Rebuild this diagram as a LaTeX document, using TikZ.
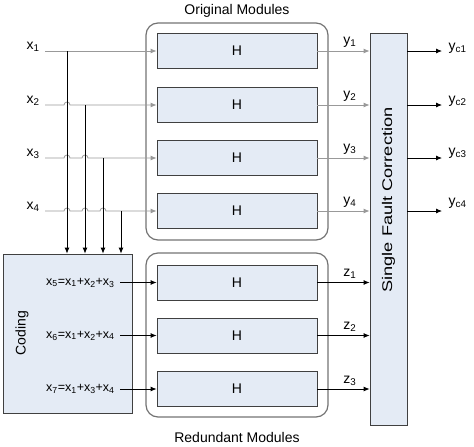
\documentclass[tikz,border=0pt]{standalone}
\usepackage{fontspec}
\setmainfont{Liberation Sans}
\usetikzlibrary{arrows.meta,positioning,calc}
\definecolor{boxblue}{HTML}{E4EBF5}

\begin{document}
\begin{tikzpicture}[x=1pt, y=-1pt,
    font=\fontsize{14}{16}\selectfont,
    line width=0.8pt,
    >={Latex[length=6pt,width=5pt]},
    hbox/.style={draw=black!75, fill=boxblue, minimum width=160pt, minimum height=35pt, inner sep=0pt},
    group/.style={draw=black!55, line width=1.2pt, rounded corners=12pt},
    eqn/.style={anchor=east, inner sep=1pt, font=\fontsize{12.5}{14}\selectfont},
    glink/.style={draw=black!40},
    blink/.style={draw=black}]
    \useasboundingbox (0,0) rectangle (474,447);

    % Module groups
    \draw[group] (146,23) rectangle (328,240);
    \draw[group] (146,253) rectangle (328,417);
    \node (torig) at (237,11) {Original Modules};
    \node (tred) at (237,437) {Redundant Modules};

    % Original modules
    \node[hbox] (h1) at (237,51) {H};
    \node[hbox] (h2) at (237,105) {H};
    \node[hbox] (h3) at (237,158) {H};
    \node[hbox] (h4) at (237,211) {H};

    % Redundant modules
    \node[hbox] (r1) at (237,282.5) {H};
    \node[hbox] (r2) at (237,335.5) {H};
    \node[hbox] (r3) at (237,389) {H};

    % Coding block
    \node[draw=black!75, fill=boxblue, minimum width=129pt, minimum height=159pt, inner sep=0pt] (coding) at (67.5,333.5) {};
    \node[rotate=90] (codtxt) at (22,333) {Coding};
    \node[eqn] (e5) at (116,282.5) {x\textsubscript{5}=x\textsubscript{1}+x\textsubscript{2}+x\textsubscript{3}};
    \node[eqn] (e6) at (116,335.5) {x\textsubscript{6}=x\textsubscript{1}+x\textsubscript{2}+x\textsubscript{4}};
    \node[eqn] (e7) at (116,389) {x\textsubscript{7}=x\textsubscript{1}+x\textsubscript{3}+x\textsubscript{4}};

    % Correction block
    \node[draw=black!75, fill=boxblue, minimum width=37pt, minimum height=392pt, inner sep=0pt] (sfc) at (388.5,229) {};
    \node[rotate=90] (sfctxt) at (388.5,200) {\scalebox{1.3}[1]{Single Fault Correction}};

    % Inputs
    \node (x1) at (33,47) {x\textsubscript{1}};
    \node (x2) at (33,101) {x\textsubscript{2}};
    \node (x3) at (33,154) {x\textsubscript{3}};
    \node (x4) at (33,207) {x\textsubscript{4}};
    \coordinate (t1) at (67,51);
    \coordinate (t2) at (85,105);
    \coordinate (t3) at (103,158);
    \coordinate (t4) at (121,211);

    % Input lines with hops
    \draw[glink, ->] ([xshift=2pt]x1.east |- h1) -- (h1.west);
    \draw[glink, ->] ([xshift=2pt]x2.east |- h2)
        -- ($(t1 |- h2)+(-3pt,0)$) arc[start angle=180, end angle=0, radius=3pt]
        -- (h2.west);
    \draw[glink, ->] ([xshift=2pt]x3.east |- h3)
        -- ($(t1 |- h3)+(-3pt,0)$) arc[start angle=180, end angle=0, radius=3pt]
        -- ($(t2 |- h3)+(-3pt,0)$) arc[start angle=180, end angle=0, radius=3pt]
        -- (h3.west);
    \draw[glink, ->] ([xshift=2pt]x4.east |- h4)
        -- ($(t1 |- h4)+(-3pt,0)$) arc[start angle=180, end angle=0, radius=3pt]
        -- ($(t2 |- h4)+(-3pt,0)$) arc[start angle=180, end angle=0, radius=3pt]
        -- ($(t3 |- h4)+(-3pt,0)$) arc[start angle=180, end angle=0, radius=3pt]
        -- (h4.west);

    % Taps into coding
    \draw[blink, ->] (t1) -- (t1 |- coding.north);
    \draw[blink, ->] (t2) -- (t2 |- coding.north);
    \draw[blink, ->] (t3) -- (t3 |- coding.north);
    \draw[blink, ->] (t4) -- (t4 |- coding.north);

    % Coded inputs
    \draw[blink, ->] ([xshift=4pt]e5.east) -- (r1.west);
    \draw[blink, ->] ([xshift=4pt]e6.east) -- (r2.west);
    \draw[blink, ->] ([xshift=4pt]e7.east) -- (r3.west);

    % Module outputs
    \draw[glink, ->] (h1.east) -- (sfc.west |- h1) node[pos=0.62, above, text=black] {y\textsubscript{1}};
    \draw[glink, ->] (h2.east) -- (sfc.west |- h2) node[pos=0.62, above, text=black] {y\textsubscript{2}};
    \draw[glink, ->] (h3.east) -- (sfc.west |- h3) node[pos=0.62, above, text=black] {y\textsubscript{3}};
    \draw[glink, ->] (h4.east) -- (sfc.west |- h4) node[pos=0.62, above, text=black] {y\textsubscript{4}};
    \draw[blink, ->] (r1.east) -- (sfc.west |- r1) node[pos=0.62, above] {z\textsubscript{1}};
    \draw[blink, ->] (r2.east) -- (sfc.west |- r2) node[pos=0.62, above] {z\textsubscript{2}};
    \draw[blink, ->] (r3.east) -- (sfc.west |- r3) node[pos=0.62, above] {z\textsubscript{3}};

    % Corrected outputs
    \node[anchor=west] (yc1) at (445,48) {y\textsubscript{c1}};
    \node[anchor=west] (yc2) at (445,101) {y\textsubscript{c2}};
    \node[anchor=west] (yc3) at (445,153) {y\textsubscript{c3}};
    \node[anchor=west] (yc4) at (445,203) {y\textsubscript{c4}};
    \draw[blink, ->] (sfc.east |- h1) -- ([xshift=-3pt]yc1.west |- h1);
    \draw[blink, ->] (sfc.east |- h2) -- ([xshift=-3pt]yc2.west |- h2);
    \draw[blink, ->] (sfc.east |- h3) -- ([xshift=-3pt]yc3.west |- h3);
    \draw[blink, ->] (sfc.east |- h4) -- ([xshift=-3pt]yc4.west |- h4);
\end{tikzpicture}
\end{document}
